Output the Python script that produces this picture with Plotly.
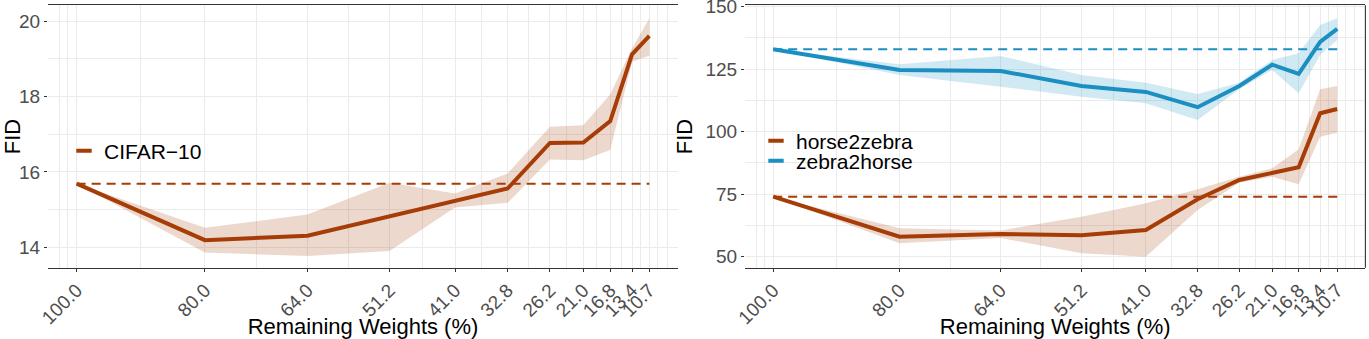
import plotly.graph_objects as go

# ---------------- data ----------------
x_weights = [100.0, 80.0, 64.0, 51.2, 41.0, 32.8, 26.2, 21.0, 16.8, 13.4, 10.7]
x_ticklabels = ["100.0", "80.0", "64.0", "51.2", "41.0", "32.8", "26.2", "21.0", "16.8", "13.4", "10.7"]
x_minor = [102.7, 101.45, 90.0, 72.0, 57.6, 46.1, 36.9, 29.5, 23.6, 18.9, 15.1, 12.05, 9.4, 7.9]

# CIFAR-10
cifar_mean = [15.69, 14.19, 14.31, 14.83, 15.25, 15.56, 16.77, 16.78, 17.35, 19.12, 19.61]
cifar_upper = [15.69, 14.52, 14.87, 15.71, 15.43, 15.96, 17.20, 17.24, 18.06, 19.28, 20.07]
cifar_lower = [15.69, 13.86, 13.77, 13.90, 15.06, 15.18, 16.33, 16.31, 16.58, 18.92, 19.08]
cifar_baseline = 15.69

# horse2zebra
h2z_mean = [74.0, 58.0, 59.1, 58.6, 60.7, 73.0, 80.7, 83.4, 85.8, 107.4, 109.1]
h2z_upper = [74.0, 61.4, 60.5, 66.0, 71.4, 77.0, 82.0, 85.4, 93.0, 117.0, 118.3]
h2z_lower = [74.0, 55.4, 57.5, 51.4, 50.0, 68.7, 79.6, 82.0, 79.0, 98.0, 99.6]
h2z_baseline = 74.0

# zebra2horse
z2h_mean = [133.0, 124.7, 124.3, 118.3, 115.9, 109.8, 118.3, 126.8, 123.1, 135.9, 141.1]
z2h_upper = [133.0, 127.0, 130.3, 122.7, 119.6, 115.1, 119.6, 128.7, 131.4, 142.7, 145.4]
z2h_lower = [133.0, 122.7, 118.0, 114.0, 111.4, 104.7, 117.0, 124.7, 115.4, 130.7, 136.7]
z2h_baseline = 133.0

left_yticks = [14, 16, 18, 20]
left_yminor = [15, 17, 19]
right_yticks = [50, 75, 100, 125, 150]
right_yminor = [62.5, 87.5, 112.5, 137.5]

# ---------------- styles ----------------
BROWN = "#A63D06"
BLUE = "#1B8FC2"
BROWN_FILL = "rgba(166,61,6,0.2)"
BLUE_FILL = "rgba(27,143,194,0.2)"
FONT = "Liberation Sans, Arial, sans-serif"
W, H = 1369, 339

fig = go.Figure()


def add_series(mean, upper, lower, baseline, color, fill, xa, ya):
    fig.add_trace(go.Scatter(x=x_weights, y=lower, mode="lines", line=dict(width=0, color=fill),
                             hoverinfo="skip", showlegend=False, xaxis=xa, yaxis=ya))
    fig.add_trace(go.Scatter(x=x_weights, y=upper, mode="lines", line=dict(width=0, color=fill),
                             fill="tonexty", fillcolor=fill, hoverinfo="skip", showlegend=False,
                             xaxis=xa, yaxis=ya))
    fig.add_trace(go.Scatter(x=[x_weights[0], x_weights[-1]], y=[baseline, baseline], mode="lines",
                             line=dict(width=2, color=color, dash="9px,6px"), showlegend=False,
                             xaxis=xa, yaxis=ya))
    fig.add_trace(go.Scatter(x=x_weights, y=mean, mode="lines", line=dict(width=4, color=color),
                             showlegend=False, xaxis=xa, yaxis=ya))


def add_key(name, color, legend, xa, ya):
    fig.add_trace(go.Scatter(x=[None], y=[None], mode="markers", name=name,
                             marker=dict(symbol="line-ew", size=11, color=color,
                                         line=dict(width=4, color=color)),
                             legend=legend, xaxis=xa, yaxis=ya))


add_series(cifar_mean, cifar_upper, cifar_lower, cifar_baseline, BROWN, BROWN_FILL, "x", "y")
add_series(z2h_mean, z2h_upper, z2h_lower, z2h_baseline, BLUE, BLUE_FILL, "x2", "y2")
add_series(h2z_mean, h2z_upper, h2z_lower, h2z_baseline, BROWN, BROWN_FILL, "x2", "y2")

add_key("CIFAR\u221210", BROWN, "legend", "x", "y")
add_key("horse2zebra", BROWN, "legend2", "x2", "y2")
add_key("zebra2horse", BLUE, "legend3", "x2", "y2")

GRID = "#EBEBEB"
AX = "#333333"
TICKC = "#4D4D4D"

xcommon = dict(
    range=[104.465, 6.235], tickmode="array", tickvals=x_weights, ticktext=x_ticklabels,
    tickangle=-45, tickfont=dict(family=FONT, size=19, color=TICKC),
    showgrid=True, gridcolor=GRID, gridwidth=1.1,
    minor=dict(tickmode="array", tickvals=x_minor, showgrid=True, gridcolor=GRID, gridwidth=0.6, ticks=""),
    showline=True, mirror=True, linecolor=AX, linewidth=1.1,
    ticks="outside", ticklen=3, tickcolor=AX, tickwidth=1,
    zeroline=False, automargin=False, ticklabeloverflow="allow",
    title=dict(text="Remaining Weights (%)", font=dict(family=FONT, size=22, color="black"), standoff=8),
)
ycommon = dict(
    tickfont=dict(family=FONT, size=19, color=TICKC),
    showgrid=True, gridcolor=GRID, gridwidth=1.1, showline=False, zeroline=False,
    ticks="outside", ticklen=3, tickcolor=AX, tickwidth=1,
    automargin=False, ticklabeloverflow="allow",
    title=dict(text="FID", font=dict(family=FONT, size=22, color="black"), standoff=6),
)

ydom = [1 - 267.7 / H, 1 - 5.3 / H]
LEG_FONT = dict(family=FONT, size=21, color="black")
fig.update_layout(
    width=W, height=H, margin=dict(l=0, r=0, t=0, b=0),
    paper_bgcolor="white", plot_bgcolor="white",
    font=dict(family=FONT),
    xaxis=dict(domain=[48 / W, 678 / W], anchor="y", **xcommon),
    xaxis2=dict(domain=[745 / W, 1365.4 / W], anchor="y2", **xcommon),
    yaxis=dict(domain=ydom, anchor="x", range=[13.46, 20.42], tickmode="array", tickvals=left_yticks,
               minor=dict(tickmode="array", tickvals=left_yminor, showgrid=True, gridcolor=GRID,
                          gridwidth=0.6, ticks=""), **ycommon),
    yaxis2=dict(domain=ydom, anchor="x2", range=[45.6, 150.56], tickmode="array", tickvals=right_yticks,
                minor=dict(tickmode="array", tickvals=right_yminor, showgrid=True, gridcolor=GRID,
                           gridwidth=0.6, ticks=""), **ycommon),
    legend=dict(x=64 / W, y=1 - 151 / H, xanchor="left", yanchor="middle", bgcolor="rgba(0,0,0,0)",
                font=LEG_FONT, itemwidth=30),
    legend2=dict(x=756 / W, y=1 - 141 / H, xanchor="left", yanchor="middle", bgcolor="rgba(0,0,0,0)",
                 font=LEG_FONT, itemwidth=30),
    legend3=dict(x=756 / W, y=1 - 161 / H, xanchor="left", yanchor="middle", bgcolor="rgba(0,0,0,0)",
                 font=LEG_FONT, itemwidth=30),
    shapes=[dict(type="line", xref="x2 domain", yref="y2 domain", x0=1, x1=1, y0=0, y1=1,
                 line=dict(color=AX, width=1.1))],
)

fig.write_html("out.html")
